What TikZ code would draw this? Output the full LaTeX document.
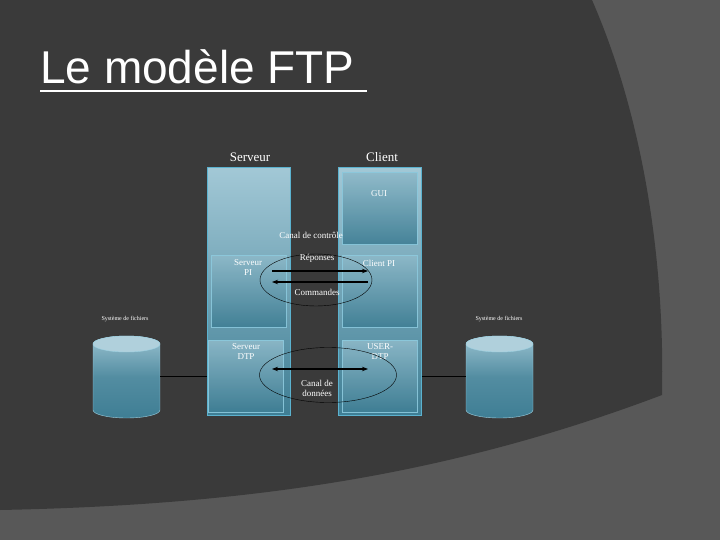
\documentclass[tikz,border=0pt]{standalone}
\usepackage{fontspec}
\setmainfont{Liberation Serif}
\newfontfamily\titlefont{Liberation Sans}
\usetikzlibrary{shapes.geometric,arrows.meta}
\definecolor{bgdark}{HTML}{3A3A3A}
\definecolor{bglight}{HTML}{585858}
\definecolor{boxtop}{HTML}{A2C8D6}
\definecolor{boxbot}{HTML}{3F7E94}
\definecolor{boxedge}{HTML}{5BB2CF}
\tikzset{
  col/.style={draw=boxedge, line width=1pt, top color=boxtop, bottom color=boxbot, minimum width=83pt, minimum height=247pt, inner sep=0pt},
  inner/.style={draw=boxedge!70, line width=0.6pt, top color=boxtop!80!boxbot, bottom color=boxbot, minimum width=75pt, minimum height=72pt, inner sep=0pt, opacity=0.9},
  lbl/.style={text=white, font=\fontsize{9}{10}\selectfont, align=center, inner sep=1pt},
  tiny/.style={text=white, font=\fontsize{6}{7}\selectfont, inner sep=1pt},
  cylbody/.style={draw=boxedge!60, top color=boxtop!90!boxbot, bottom color=boxbot, middle color=boxbot!80!boxtop},
  arr/.style={line width=1.4pt, -{Stealth[length=6pt]}},
}
\begin{document}
\begin{tikzpicture}[x=1pt,y=-1pt]
\useasboundingbox (0,0) rectangle (720,540);
\fill[bglight] (0,0) rectangle (720,540);
\fill[bgdark] (0,0) -- (592,0) .. controls (640,110) and (665,250) .. (662,395) .. controls (450,475) and (250,505) .. (0,510) -- cycle;
% title
\node[anchor=base west, text=white, inner sep=0pt, font=\titlefont\fontsize{46}{50}\selectfont] (title) at (40,84) {Le modèle FTP};
\draw[white, line width=2.5pt] (40,91) -- (367,91);
% headers
\node[lbl, font=\fontsize{13}{14}\selectfont] (hs) at (250,157) {Serveur};
\node[lbl, font=\fontsize{13}{14}\selectfont] (hc) at (382,157) {Client};
% columns
\node[col] (scol) at (248.5,291.5) {};
\node[col] (ccol) at (380,291.5) {};
\node[inner] (gui) at (379.5,208.5) {};
\node[inner] (spi) at (249,291) {};
\node[inner] (cpi) at (379.5,291) {};
\node[inner] (sdtp) at (246,376) {};
\node[inner] (udtp) at (379.5,376) {};
\node[lbl] at (379,194) {GUI};
\node[lbl, anchor=north] at (248,258) {Serveur\\PI};
\node[lbl] at (379,263) {Client PI};
\node[lbl, anchor=north] at (246,342) {Serveur\\DTP};
\node[lbl, anchor=north] at (380,342) {USER-\\DTP};
% control channel
\node[lbl] (cc) at (311,235) {Canal de contrôle};
\node[draw=black, ellipse, minimum width=112pt, minimum height=52pt] (ec) at (316,280) {};
\coordinate (a1) at (272,271); \coordinate (b1) at (368,271);
\coordinate (a2) at (368,282); \coordinate (b2) at (272,282);
\draw[arr] (a1) -- (b1);
\draw[arr] (a2) -- (b2);
\node[lbl] (rep) at (317,258) {Réponses};
\node[lbl] (cmd) at (317,292) {Commandes};
% data channel
\node[draw=black, ellipse, minimum width=137pt, minimum height=55pt] (ed) at (328,375) {};
\coordinate (a3) at (272,369); \coordinate (b3) at (368,369);
\draw[line width=1.4pt, {Stealth[length=6pt]}-{Stealth[length=6pt]}] (a3) -- (b3);
\node[lbl] (cd) at (317,388) {Canal de\\données};
% cylinders
\foreach \cx/\nm in {126.5/fl, 499.5/fr}{
  \path[cylbody] (\cx-33.5,344) -- (\cx-33.5,410) arc[start angle=180, end angle=360, x radius=33.5, y radius=-8] -- (\cx+33.5,344) arc[start angle=0, end angle=180, x radius=33.5, y radius=-8] -- cycle;
  \path[draw=boxedge!60, fill=boxtop!85!white] (\cx,344) ellipse[x radius=33.5, y radius=8];
  \coordinate (\nm w) at (\cx-33.5,376);
  \coordinate (\nm e) at (\cx+33.5,376);
}
\node[tiny] (tl) at (125,319) {Système de fichiers};
\node[tiny] (tr) at (499,319) {Système de fichiers};
\draw[black] (fle) -- (scol.west |- fle);
\draw[black] (ccol.east |- frw) -- (frw);
\end{tikzpicture}
\end{document}
